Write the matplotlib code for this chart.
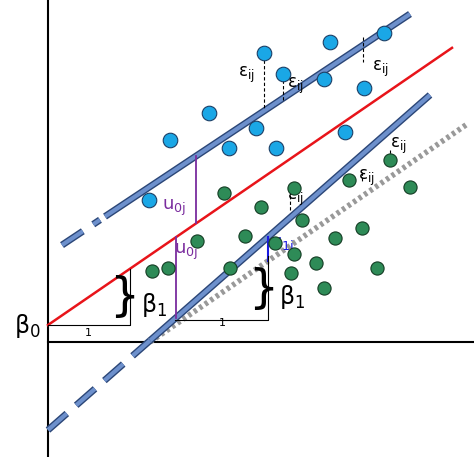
import matplotlib
matplotlib.use("Agg")
import matplotlib.pyplot as plt
import matplotlib.patheffects as pe
import numpy as np

# group 1 (blue) and group 2 (green) points, in chart units (pixel-like)
blue_x = [264, 330, 384, 283, 324, 364, 209, 256, 345, 170, 229, 276, 149]
blue_y = [53, 42, 33, 74, 79, 88, 113, 128, 132, 140, 148, 148, 200]
green_x = [390, 349, 410, 224, 294, 261, 302, 197, 245, 335, 362, 275, 152, 168, 230, 294, 316, 377, 291, 324]
green_y = [160, 180, 187, 193, 188, 207, 220, 241, 236, 238, 228, 243, 271, 268, 268, 254, 263, 268, 273, 288]

# lines: (x_start, x_end, y at x=48, slope in px/px upward)
red_line = (48, 452, 325, 0.686)
upper_blue = (105, 410, 14 + 0.664 * 362, 0.664)
upper_blue_dash = (62, 100)
lower_blue = (150, 430, 430, 0.877)
lower_blue_dash = (48, 150)
gray_line = (150, 466, 342 + 0.687 * 102, 0.687)

def yline(line, x):
    return line[2] - line[3] * (np.asarray(x) - 48)

fig = plt.figure(figsize=(4.74, 4.57), dpi=100)
ax = fig.add_axes([0, 0, 1, 1])
ax.set_xlim(0, 474)
ax.set_ylim(457, 0)
ax.axis("off")

# axes
ax.plot([48, 48], [0, 457], color="black", lw=1.5)
ax.plot([48, 474], [342, 342], color="black", lw=1.5)

# red line
xs = np.array(red_line[:2])
ax.plot(xs, yline(red_line, xs), color="#e8141a", lw=1.8)

# gray dotted
xs = np.array(gray_line[:2])
ax.plot(xs, yline(gray_line, xs), color="#999999", lw=4, ls=(0, (0.6, 0.6)))

blue_pe = [pe.Stroke(linewidth=5, foreground="#2b4677"), pe.Normal()]
for line, dash in [(upper_blue, upper_blue_dash), (lower_blue, lower_blue_dash)]:
    xs = np.array(line[:2])
    ax.plot(xs, yline(line, xs), color="#6d90cc", lw=3, path_effects=blue_pe, solid_capstyle="butt")
    xd = np.array(dash)
    ax.plot(xd, yline(line, xd), color="#6d90cc", lw=3, ls=(0, (6, 3)), path_effects=blue_pe)

ax.scatter(blue_x, blue_y, s=110, color="#1aa7e6", edgecolor="#1c3f66", lw=0.8, zorder=5)
ax.scatter(green_x, green_y, s=90, color="#2e8b57", edgecolor="#143d24", lw=0.8, zorder=5)

# epsilon residuals
for x, y0, y1 in [(264, 60, 108), (283, 80, 100), (363, 37, 62), (290, 190, 212), (362, 172, 183), (390, 150, 160)]:
    ax.plot([x, x], [y0, y1], color="black", lw=0.8, ls=(0, (3, 2)))
for x, y in [(238, 75), (287, 86), (372, 69), (287, 198), (358, 178), (390, 146)]:
    ax.text(x, y, "ε$_{\\rm ij}$", fontsize=12, va="center", ha="left")

# u0j
ax.plot([196, 196], [yline(upper_blue, 196), yline(red_line, 196)], color="#7a2c9e", lw=1.3)
ax.plot([176, 176], [yline(red_line, 176), yline(lower_blue, 176)], color="#7a2c9e", lw=1.3)
ax.text(162, 208, "u$_{\\rm 0j}$", color="#7a2c9e", fontsize=13, va="center")
ax.text(174, 252, "u$_{\\rm 0j}$", color="#7a2c9e", fontsize=13, va="center")
# u1j
ax.plot([268, 268], [yline(lower_blue, 268), yline(gray_line, 268)], color="#1a1ae0", lw=1.5)
ax.text(270, 246, "u$_{\\rm 1j}$", color="#1a1ae0", fontsize=13, va="center")

# slope triangles
ax.plot([48, 130, 130], [325, 325, 269], color="black", lw=0.8)
ax.text(88, 333, "1", fontsize=8, ha="center", va="center")
ax.text(124, 298, "}", fontsize=34, ha="center", va="center", family="DejaVu Sans")
ax.text(141, 305, "β$_1$", fontsize=17, va="center")
ax.plot([175, 268, 268], [320, 320, 256], color="black", lw=0.8)
ax.text(222, 323, "1", fontsize=8, ha="center", va="center")
ax.text(263, 289, "}", fontsize=34, ha="center", va="center", family="DejaVu Sans")
ax.text(279, 297, "β$_1$", fontsize=17, va="center")

ax.text(14, 326, "β$_0$", fontsize=17, va="center")

fig.savefig("out.png", dpi=100)
